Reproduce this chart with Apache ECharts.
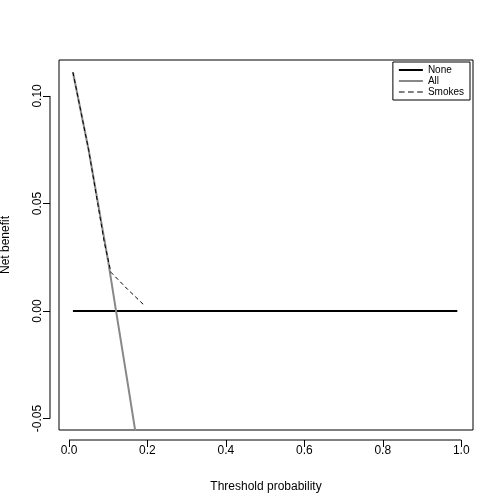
<!DOCTYPE html>
<html><head><meta charset="utf-8">
<script src="https://cdn.jsdelivr.net/npm/echarts@6/dist/echarts.min.js"></script>
<style>body{margin:0}#main{width:504px;height:504px}</style>
</head><body><div id="main"></div>
<script>
// net benefit
const thresholds = [0.01, 0.99];
const noneValues = [0, 0];
const allT = [0.01, 0.05, 0.10, 0.12, 0.15, 0.17, 0.20];
const allValues = [0.111, 0.075, 0.023, 0.0, -0.034, -0.057, -0.099];
const smokesT = [0.01, 0.05, 0.09, 0.107, 0.15, 0.19];
const smokesValues = [0.111, 0.075, 0.032, 0.018, 0.010, 0.003];
const xTicks = [0, 0.2, 0.4, 0.6, 0.8, 1.0];
const yTicks = [-0.05, 0, 0.05, 0.10];

const zip = (a, b) => a.map((v, i) => [v, b[i]]);
const font = 'Liberation Sans, Arial, sans-serif';
const chart = echarts.init(document.getElementById('main'));
chart.setOption({
    animation: false,
    grid: {left: 59, right: 31, top: 60, bottom: 74, show: true, borderColor: '#000', borderWidth: 1,
        containLabel: false, outerBoundsMode: 'none'},
    xAxis: {
        type: 'value', min: -0.0255, max: 1.03, offset: 10,
        name: 'Threshold probability', nameLocation: 'middle', nameGap: 41,
        nameTextStyle: {color: '#000', fontSize: 12, fontFamily: font},
        splitLine: {show: false}, axisLine: {show: false, onZero: false},
        axisTick: {show: true, length: 7, customValues: xTicks, lineStyle: {color: '#000'}},
        axisLabel: {customValues: xTicks, color: '#000', fontSize: 12, fontFamily: font, margin: 5,
            formatter: v => v.toFixed(1)}
    },
    yAxis: {
        type: 'value', min: -0.0553, max: 0.1167, offset: 9,
        name: 'Net benefit', nameLocation: 'middle', nameGap: 38,
        nameTextStyle: {color: '#000', fontSize: 12, fontFamily: font},
        splitLine: {show: false}, axisLine: {show: false, onZero: false},
        axisTick: {show: true, length: 7, customValues: yTicks, lineStyle: {color: '#000'}},
        axisLabel: {customValues: yTicks, color: '#000', fontSize: 12, fontFamily: font, margin: 12,
            rotate: 90, align: 'center', verticalAlign: 'middle', formatter: v => v.toFixed(2)}
    },
    legend: {
        orient: 'vertical', right: 34, top: 62, itemGap: 1, itemWidth: 24, itemHeight: 10,
        borderColor: '#000', borderWidth: 1, borderRadius: 0, padding: [3, 6, 3, 6],
        textStyle: {fontSize: 10, fontFamily: font, color: '#000'},
        data: [
            {name: 'None', icon: 'path://M0,4L24,4L24,6L0,6Z'},
            {name: 'All', icon: 'path://M0,4L24,4L24,6L0,6Z'},
            {name: 'Smokes', icon: 'path://M0,4.5L5,4.5L5,5.5L0,5.5ZM8,4.5L13,4.5L13,5.5L8,5.5ZM16,4.5L21,4.5L21,5.5L16,5.5Z'}
        ]
    },
    series: [
        {name: 'None', type: 'line', data: zip(thresholds, noneValues), symbol: 'none', color: '#000',
            lineStyle: {width: 2, color: '#000'}},
        {name: 'All', type: 'line', data: zip(allT, allValues), symbol: 'none', color: '#888',
            lineStyle: {width: 2, color: '#888'}},
        {name: 'Smokes', type: 'line', data: zip(smokesT, smokesValues), symbol: 'none', color: '#000',
            lineStyle: {width: 1, type: [4, 3], color: '#000'}}
    ]
});
// R-style axis lines spanning only the tick range
const p0 = chart.convertToPixel({gridIndex: 0}, [0, -0.05]);
const p1 = chart.convertToPixel({gridIndex: 0}, [1, 0.10]);
chart.setOption({graphic: [
    {type: 'line', shape: {x1: p0[0], y1: 440, x2: p1[0], y2: 440}, style: {stroke: '#000', lineWidth: 1}},
    {type: 'line', shape: {x1: 50, y1: p0[1], x2: 50, y2: p1[1]}, style: {stroke: '#000', lineWidth: 1}}
]});
</script></body></html>
